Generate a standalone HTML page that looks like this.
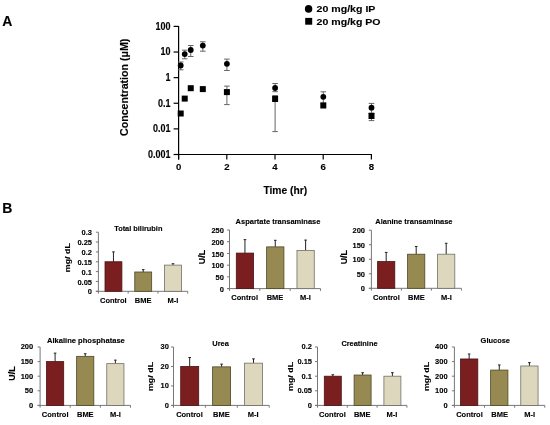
<!DOCTYPE html>
<html><head><meta charset="utf-8"><title>Figure</title>
<style>html,body{margin:0;padding:0;background:#fff;}body{width:550px;height:425px;overflow:hidden;}svg{display:block;}text{stroke:#000;stroke-width:0.12px;}</style>
</head><body>
<svg width="550" height="425" viewBox="0 0 550 425" font-family="Liberation Sans, Arial, sans-serif" font-weight="bold">
<rect width="550" height="425" fill="#fff"/>
<text font-size="14" text-anchor="start" fill="#000" transform="translate(2.20 26.00)">A</text>
<ellipse cx="308.60" cy="8.90" rx="3.70" ry="3.80" fill="#000"/>
<rect x="305.20" y="17.90" width="7.00" height="6.80" fill="#000"/>
<text font-size="9.9" text-anchor="start" fill="#000" textLength="58.80" lengthAdjust="spacingAndGlyphs" transform="translate(316.60 11.70)">20 mg/kg IP</text>
<text font-size="9.9" text-anchor="start" fill="#000" textLength="64.00" lengthAdjust="spacingAndGlyphs" transform="translate(316.60 24.50)">20 mg/kg PO</text>
<line x1="178.60" y1="25.90" x2="178.60" y2="159.50" stroke="#000" stroke-width="1.2"/>
<line x1="178.00" y1="154.50" x2="372.00" y2="154.50" stroke="#000" stroke-width="1.2"/>
<line x1="173.60" y1="26.40" x2="178.60" y2="26.40" stroke="#000" stroke-width="1.2"/>
<text font-size="9" text-anchor="end" fill="#000" transform="translate(170.50 29.70) scale(1 1.12)">100</text>
<line x1="173.60" y1="52.02" x2="178.60" y2="52.02" stroke="#000" stroke-width="1.2"/>
<text font-size="9" text-anchor="end" fill="#000" transform="translate(170.50 55.32) scale(1 1.12)">10</text>
<line x1="173.60" y1="77.64" x2="178.60" y2="77.64" stroke="#000" stroke-width="1.2"/>
<text font-size="9" text-anchor="end" fill="#000" transform="translate(170.50 80.94) scale(1 1.12)">1</text>
<line x1="173.60" y1="103.26" x2="178.60" y2="103.26" stroke="#000" stroke-width="1.2"/>
<text font-size="9" text-anchor="end" fill="#000" transform="translate(170.50 106.56) scale(1 1.12)">0.1</text>
<line x1="173.60" y1="128.88" x2="178.60" y2="128.88" stroke="#000" stroke-width="1.2"/>
<text font-size="9" text-anchor="end" fill="#000" transform="translate(170.50 132.18) scale(1 1.12)">0.01</text>
<line x1="173.60" y1="154.50" x2="178.60" y2="154.50" stroke="#000" stroke-width="1.2"/>
<text font-size="9" text-anchor="end" fill="#000" transform="translate(170.50 157.80) scale(1 1.12)">0.001</text>
<line x1="178.60" y1="154.50" x2="178.60" y2="159.50" stroke="#000" stroke-width="1.2"/>
<text font-size="9.6" text-anchor="middle" fill="#000" transform="translate(178.60 170.20)">0</text>
<line x1="226.80" y1="154.50" x2="226.80" y2="159.50" stroke="#000" stroke-width="1.2"/>
<text font-size="9.6" text-anchor="middle" fill="#000" transform="translate(226.80 170.20)">2</text>
<line x1="275.00" y1="154.50" x2="275.00" y2="159.50" stroke="#000" stroke-width="1.2"/>
<text font-size="9.6" text-anchor="middle" fill="#000" transform="translate(275.00 170.20)">4</text>
<line x1="323.20" y1="154.50" x2="323.20" y2="159.50" stroke="#000" stroke-width="1.2"/>
<text font-size="9.6" text-anchor="middle" fill="#000" transform="translate(323.20 170.20)">6</text>
<line x1="371.40" y1="154.50" x2="371.40" y2="159.50" stroke="#000" stroke-width="1.2"/>
<text font-size="9.6" text-anchor="middle" fill="#000" transform="translate(371.40 170.20)">8</text>
<text font-size="10" text-anchor="start" fill="#000" textLength="43.80" lengthAdjust="spacingAndGlyphs" transform="translate(263.40 193.60)">Time (hr)</text>
<text font-size="10" text-anchor="middle" fill="#000" textLength="97.40" lengthAdjust="spacingAndGlyphs" transform="translate(127.60 87.30) rotate(-90)">Concentration (μM)</text>
<line x1="180.70" y1="62.00" x2="180.70" y2="69.80" stroke="#666" stroke-width="1.0"/>
<line x1="177.90" y1="62.00" x2="183.50" y2="62.00" stroke="#666" stroke-width="1.0"/>
<line x1="177.90" y1="69.80" x2="183.50" y2="69.80" stroke="#666" stroke-width="1.0"/>
<line x1="184.72" y1="50.20" x2="184.72" y2="58.80" stroke="#666" stroke-width="1.0"/>
<line x1="181.92" y1="50.20" x2="187.53" y2="50.20" stroke="#666" stroke-width="1.0"/>
<line x1="181.92" y1="58.80" x2="187.53" y2="58.80" stroke="#666" stroke-width="1.0"/>
<line x1="190.75" y1="45.50" x2="190.75" y2="56.50" stroke="#666" stroke-width="1.0"/>
<line x1="187.95" y1="45.50" x2="193.55" y2="45.50" stroke="#666" stroke-width="1.0"/>
<line x1="187.95" y1="56.50" x2="193.55" y2="56.50" stroke="#666" stroke-width="1.0"/>
<line x1="202.80" y1="41.80" x2="202.80" y2="51.20" stroke="#666" stroke-width="1.0"/>
<line x1="200.00" y1="41.80" x2="205.60" y2="41.80" stroke="#666" stroke-width="1.0"/>
<line x1="200.00" y1="51.20" x2="205.60" y2="51.20" stroke="#666" stroke-width="1.0"/>
<line x1="226.90" y1="59.10" x2="226.90" y2="70.50" stroke="#666" stroke-width="1.0"/>
<line x1="224.10" y1="59.10" x2="229.70" y2="59.10" stroke="#666" stroke-width="1.0"/>
<line x1="224.10" y1="70.50" x2="229.70" y2="70.50" stroke="#666" stroke-width="1.0"/>
<line x1="275.10" y1="83.50" x2="275.10" y2="91.70" stroke="#666" stroke-width="1.0"/>
<line x1="272.30" y1="83.50" x2="277.90" y2="83.50" stroke="#666" stroke-width="1.0"/>
<line x1="272.30" y1="91.70" x2="277.90" y2="91.70" stroke="#666" stroke-width="1.0"/>
<line x1="323.30" y1="91.80" x2="323.30" y2="103.00" stroke="#666" stroke-width="1.0"/>
<line x1="320.50" y1="91.80" x2="326.10" y2="91.80" stroke="#666" stroke-width="1.0"/>
<line x1="320.50" y1="103.00" x2="326.10" y2="103.00" stroke="#666" stroke-width="1.0"/>
<line x1="371.50" y1="103.40" x2="371.50" y2="113.50" stroke="#666" stroke-width="1.0"/>
<line x1="368.70" y1="103.40" x2="374.30" y2="103.40" stroke="#666" stroke-width="1.0"/>
<line x1="368.70" y1="113.50" x2="374.30" y2="113.50" stroke="#666" stroke-width="1.0"/>
<line x1="226.90" y1="86.10" x2="226.90" y2="104.60" stroke="#666" stroke-width="1.0"/>
<line x1="224.10" y1="86.10" x2="229.70" y2="86.10" stroke="#666" stroke-width="1.0"/>
<line x1="224.10" y1="104.60" x2="229.70" y2="104.60" stroke="#666" stroke-width="1.0"/>
<line x1="275.10" y1="95.50" x2="275.10" y2="131.60" stroke="#666" stroke-width="1.0"/>
<line x1="272.30" y1="95.50" x2="277.90" y2="95.50" stroke="#666" stroke-width="1.0"/>
<line x1="272.30" y1="131.60" x2="277.90" y2="131.60" stroke="#666" stroke-width="1.0"/>
<line x1="371.50" y1="113.00" x2="371.50" y2="120.60" stroke="#666" stroke-width="1.0"/>
<line x1="368.70" y1="113.00" x2="374.30" y2="113.00" stroke="#666" stroke-width="1.0"/>
<line x1="368.70" y1="120.60" x2="374.30" y2="120.60" stroke="#666" stroke-width="1.0"/>
<circle cx="180.70" cy="65.50" r="2.90" fill="#000"/>
<circle cx="184.72" cy="54.10" r="2.90" fill="#000"/>
<circle cx="190.75" cy="50.00" r="2.90" fill="#000"/>
<circle cx="202.80" cy="45.60" r="2.90" fill="#000"/>
<circle cx="226.90" cy="63.80" r="2.90" fill="#000"/>
<circle cx="275.10" cy="88.00" r="2.90" fill="#000"/>
<circle cx="323.30" cy="96.80" r="2.90" fill="#000"/>
<circle cx="371.50" cy="107.70" r="2.90" fill="#000"/>
<rect x="177.70" y="110.50" width="6.00" height="6.00" fill="#000"/>
<rect x="181.72" y="95.60" width="6.00" height="6.00" fill="#000"/>
<rect x="187.75" y="85.20" width="6.00" height="6.00" fill="#000"/>
<rect x="199.80" y="86.10" width="6.00" height="6.00" fill="#000"/>
<rect x="223.90" y="89.10" width="6.00" height="6.00" fill="#000"/>
<rect x="272.10" y="96.00" width="6.00" height="6.00" fill="#000"/>
<rect x="320.30" y="102.50" width="6.00" height="6.00" fill="#000"/>
<rect x="368.50" y="113.00" width="6.00" height="6.00" fill="#000"/>
<text font-size="14" text-anchor="start" fill="#000" transform="translate(2.20 212.70)">B</text>
<line x1="98.40" y1="232.20" x2="98.40" y2="293.60" stroke="#777" stroke-width="1"/>
<line x1="95.90" y1="291.30" x2="187.71" y2="291.30" stroke="#777" stroke-width="1"/>
<line x1="95.90" y1="291.30" x2="98.40" y2="291.30" stroke="#777" stroke-width="1"/>
<text font-size="7.5" text-anchor="end" fill="#000" transform="translate(92.00 294.45) scale(1 1.06)">0</text>
<line x1="95.90" y1="281.45" x2="98.40" y2="281.45" stroke="#777" stroke-width="1"/>
<text font-size="7.5" text-anchor="end" fill="#000" transform="translate(92.00 284.60) scale(1 1.06)">0.05</text>
<line x1="95.90" y1="271.60" x2="98.40" y2="271.60" stroke="#777" stroke-width="1"/>
<text font-size="7.5" text-anchor="end" fill="#000" transform="translate(92.00 274.75) scale(1 1.06)">0.1</text>
<line x1="95.90" y1="261.75" x2="98.40" y2="261.75" stroke="#777" stroke-width="1"/>
<text font-size="7.5" text-anchor="end" fill="#000" transform="translate(92.00 264.90) scale(1 1.06)">0.15</text>
<line x1="95.90" y1="251.90" x2="98.40" y2="251.90" stroke="#777" stroke-width="1"/>
<text font-size="7.5" text-anchor="end" fill="#000" transform="translate(92.00 255.05) scale(1 1.06)">0.2</text>
<line x1="95.90" y1="242.05" x2="98.40" y2="242.05" stroke="#777" stroke-width="1"/>
<text font-size="7.5" text-anchor="end" fill="#000" transform="translate(92.00 245.20) scale(1 1.06)">0.25</text>
<line x1="95.90" y1="232.20" x2="98.40" y2="232.20" stroke="#777" stroke-width="1"/>
<text font-size="7.5" text-anchor="end" fill="#000" transform="translate(92.00 235.35) scale(1 1.06)">0.3</text>
<line x1="128.17" y1="291.30" x2="128.17" y2="293.60" stroke="#777" stroke-width="1"/>
<line x1="157.94" y1="291.30" x2="157.94" y2="293.60" stroke="#777" stroke-width="1"/>
<line x1="187.71" y1="291.30" x2="187.71" y2="293.60" stroke="#777" stroke-width="1"/>
<line x1="113.45" y1="251.90" x2="113.45" y2="261.75" stroke="#222" stroke-width="1"/>
<line x1="112.15" y1="251.90" x2="114.75" y2="251.90" stroke="#222" stroke-width="1"/>
<rect x="105.00" y="261.75" width="16.90" height="29.55" fill="#7a1e1f" stroke="#4a1212" stroke-width="0.8"/>
<line x1="143.22" y1="269.63" x2="143.22" y2="271.99" stroke="#222" stroke-width="1"/>
<line x1="141.92" y1="269.63" x2="144.52" y2="269.63" stroke="#222" stroke-width="1"/>
<rect x="134.77" y="271.99" width="16.90" height="19.31" fill="#968a52" stroke="#4f4622" stroke-width="0.8"/>
<line x1="172.99" y1="263.72" x2="172.99" y2="265.10" stroke="#222" stroke-width="1"/>
<line x1="171.69" y1="263.72" x2="174.29" y2="263.72" stroke="#222" stroke-width="1"/>
<rect x="164.54" y="265.10" width="16.90" height="26.20" fill="#ddd7bd" stroke="#707068" stroke-width="0.8"/>
<text font-size="7.5" text-anchor="middle" fill="#000" transform="translate(113.29 302.80) scale(1 1.06)">Control</text>
<text font-size="7.5" text-anchor="middle" fill="#000" transform="translate(143.06 302.80) scale(1 1.06)">BME</text>
<text font-size="7.5" text-anchor="middle" fill="#000" transform="translate(172.82 302.80) scale(1 1.06)">M-I</text>
<text font-size="7.5" text-anchor="start" fill="#000" textLength="48.20" lengthAdjust="spacingAndGlyphs" transform="translate(114.20 231.10) scale(1 1.06)">Total bilirubin</text>
<text font-size="8.9" text-anchor="middle" fill="#000" transform="translate(69.80 257.70) rotate(-90) scale(1 0.9)">mg/ dL</text>
<line x1="229.50" y1="230.00" x2="229.50" y2="290.90" stroke="#777" stroke-width="1"/>
<line x1="227.00" y1="288.60" x2="320.49" y2="288.60" stroke="#777" stroke-width="1"/>
<line x1="227.00" y1="288.60" x2="229.50" y2="288.60" stroke="#777" stroke-width="1"/>
<text font-size="7.5" text-anchor="end" fill="#000" transform="translate(223.90 291.75) scale(1 1.06)">0</text>
<line x1="227.00" y1="276.88" x2="229.50" y2="276.88" stroke="#777" stroke-width="1"/>
<text font-size="7.5" text-anchor="end" fill="#000" transform="translate(223.90 280.03) scale(1 1.06)">50</text>
<line x1="227.00" y1="265.16" x2="229.50" y2="265.16" stroke="#777" stroke-width="1"/>
<text font-size="7.5" text-anchor="end" fill="#000" transform="translate(223.90 268.31) scale(1 1.06)">100</text>
<line x1="227.00" y1="253.44" x2="229.50" y2="253.44" stroke="#777" stroke-width="1"/>
<text font-size="7.5" text-anchor="end" fill="#000" transform="translate(223.90 256.59) scale(1 1.06)">150</text>
<line x1="227.00" y1="241.72" x2="229.50" y2="241.72" stroke="#777" stroke-width="1"/>
<text font-size="7.5" text-anchor="end" fill="#000" transform="translate(223.90 244.87) scale(1 1.06)">200</text>
<line x1="227.00" y1="230.00" x2="229.50" y2="230.00" stroke="#777" stroke-width="1"/>
<text font-size="7.5" text-anchor="end" fill="#000" transform="translate(223.90 233.15) scale(1 1.06)">250</text>
<line x1="259.83" y1="288.60" x2="259.83" y2="290.90" stroke="#777" stroke-width="1"/>
<line x1="290.16" y1="288.60" x2="290.16" y2="290.90" stroke="#777" stroke-width="1"/>
<line x1="320.49" y1="288.60" x2="320.49" y2="290.90" stroke="#777" stroke-width="1"/>
<line x1="244.95" y1="239.61" x2="244.95" y2="253.09" stroke="#222" stroke-width="1"/>
<line x1="243.65" y1="239.61" x2="246.25" y2="239.61" stroke="#222" stroke-width="1"/>
<rect x="236.30" y="253.09" width="17.30" height="35.51" fill="#7a1e1f" stroke="#4a1212" stroke-width="0.8"/>
<line x1="275.28" y1="240.31" x2="275.28" y2="246.88" stroke="#222" stroke-width="1"/>
<line x1="273.98" y1="240.31" x2="276.58" y2="240.31" stroke="#222" stroke-width="1"/>
<rect x="266.63" y="246.88" width="17.30" height="41.72" fill="#968a52" stroke="#4f4622" stroke-width="0.8"/>
<line x1="305.61" y1="240.08" x2="305.61" y2="250.39" stroke="#222" stroke-width="1"/>
<line x1="304.31" y1="240.08" x2="306.91" y2="240.08" stroke="#222" stroke-width="1"/>
<rect x="296.96" y="250.39" width="17.30" height="38.21" fill="#ddd7bd" stroke="#707068" stroke-width="0.8"/>
<text font-size="7.5" text-anchor="middle" fill="#000" transform="translate(244.66 300.40) scale(1 1.06)">Control</text>
<text font-size="7.5" text-anchor="middle" fill="#000" transform="translate(275.00 300.40) scale(1 1.06)">BME</text>
<text font-size="7.5" text-anchor="middle" fill="#000" transform="translate(305.32 300.40) scale(1 1.06)">M-I</text>
<text font-size="7.5" text-anchor="start" fill="#000" textLength="84.80" lengthAdjust="spacingAndGlyphs" transform="translate(235.60 223.90) scale(1 1.06)">Aspartate transaminase</text>
<text font-size="8.9" text-anchor="middle" fill="#000" transform="translate(205.00 257.10) rotate(-90) scale(1 0.97)">U/L</text>
<line x1="371.40" y1="230.20" x2="371.40" y2="290.60" stroke="#777" stroke-width="1"/>
<line x1="368.90" y1="288.30" x2="461.40" y2="288.30" stroke="#777" stroke-width="1"/>
<line x1="368.90" y1="288.30" x2="371.40" y2="288.30" stroke="#777" stroke-width="1"/>
<text font-size="7.5" text-anchor="end" fill="#000" transform="translate(365.00 291.45) scale(1 1.06)">0</text>
<line x1="368.90" y1="273.77" x2="371.40" y2="273.77" stroke="#777" stroke-width="1"/>
<text font-size="7.5" text-anchor="end" fill="#000" transform="translate(365.00 276.92) scale(1 1.06)">50</text>
<line x1="368.90" y1="259.25" x2="371.40" y2="259.25" stroke="#777" stroke-width="1"/>
<text font-size="7.5" text-anchor="end" fill="#000" transform="translate(365.00 262.40) scale(1 1.06)">100</text>
<line x1="368.90" y1="244.72" x2="371.40" y2="244.72" stroke="#777" stroke-width="1"/>
<text font-size="7.5" text-anchor="end" fill="#000" transform="translate(365.00 247.88) scale(1 1.06)">150</text>
<line x1="368.90" y1="230.20" x2="371.40" y2="230.20" stroke="#777" stroke-width="1"/>
<text font-size="7.5" text-anchor="end" fill="#000" transform="translate(365.00 233.35) scale(1 1.06)">200</text>
<line x1="401.40" y1="288.30" x2="401.40" y2="290.60" stroke="#777" stroke-width="1"/>
<line x1="431.40" y1="288.30" x2="431.40" y2="290.60" stroke="#777" stroke-width="1"/>
<line x1="461.40" y1="288.30" x2="461.40" y2="290.60" stroke="#777" stroke-width="1"/>
<line x1="386.20" y1="252.42" x2="386.20" y2="261.57" stroke="#222" stroke-width="1"/>
<line x1="384.90" y1="252.42" x2="387.50" y2="252.42" stroke="#222" stroke-width="1"/>
<rect x="377.60" y="261.57" width="17.20" height="26.73" fill="#7a1e1f" stroke="#4a1212" stroke-width="0.8"/>
<line x1="416.20" y1="246.47" x2="416.20" y2="254.20" stroke="#222" stroke-width="1"/>
<line x1="414.90" y1="246.47" x2="417.50" y2="246.47" stroke="#222" stroke-width="1"/>
<rect x="407.60" y="254.20" width="17.20" height="34.10" fill="#968a52" stroke="#4f4622" stroke-width="0.8"/>
<line x1="446.20" y1="243.27" x2="446.20" y2="254.20" stroke="#222" stroke-width="1"/>
<line x1="444.90" y1="243.27" x2="447.50" y2="243.27" stroke="#222" stroke-width="1"/>
<rect x="437.60" y="254.20" width="17.20" height="34.10" fill="#ddd7bd" stroke="#707068" stroke-width="0.8"/>
<text font-size="7.5" text-anchor="middle" fill="#000" transform="translate(386.40 300.00) scale(1 1.06)">Control</text>
<text font-size="7.5" text-anchor="middle" fill="#000" transform="translate(416.40 300.00) scale(1 1.06)">BME</text>
<text font-size="7.5" text-anchor="middle" fill="#000" transform="translate(446.40 300.00) scale(1 1.06)">M-I</text>
<text font-size="7.5" text-anchor="start" fill="#000" textLength="77.20" lengthAdjust="spacingAndGlyphs" transform="translate(375.30 224.30) scale(1 1.06)">Alanine transaminase</text>
<text font-size="8.9" text-anchor="middle" fill="#000" transform="translate(347.00 257.20) rotate(-90) scale(1 0.97)">U/L</text>
<line x1="40.10" y1="347.00" x2="40.10" y2="407.70" stroke="#777" stroke-width="1"/>
<line x1="37.60" y1="405.40" x2="130.49" y2="405.40" stroke="#777" stroke-width="1"/>
<line x1="37.60" y1="405.40" x2="40.10" y2="405.40" stroke="#777" stroke-width="1"/>
<text font-size="7.5" text-anchor="end" fill="#000" transform="translate(33.20 407.75) scale(1 1.06)">0</text>
<line x1="37.60" y1="390.80" x2="40.10" y2="390.80" stroke="#777" stroke-width="1"/>
<text font-size="7.5" text-anchor="end" fill="#000" transform="translate(33.20 393.15) scale(1 1.06)">50</text>
<line x1="37.60" y1="376.20" x2="40.10" y2="376.20" stroke="#777" stroke-width="1"/>
<text font-size="7.5" text-anchor="end" fill="#000" transform="translate(33.20 378.55) scale(1 1.06)">100</text>
<line x1="37.60" y1="361.60" x2="40.10" y2="361.60" stroke="#777" stroke-width="1"/>
<text font-size="7.5" text-anchor="end" fill="#000" transform="translate(33.20 363.95) scale(1 1.06)">150</text>
<line x1="37.60" y1="347.00" x2="40.10" y2="347.00" stroke="#777" stroke-width="1"/>
<text font-size="7.5" text-anchor="end" fill="#000" transform="translate(33.20 349.35) scale(1 1.06)">200</text>
<line x1="70.23" y1="405.40" x2="70.23" y2="407.70" stroke="#777" stroke-width="1"/>
<line x1="100.36" y1="405.40" x2="100.36" y2="407.70" stroke="#777" stroke-width="1"/>
<line x1="130.49" y1="405.40" x2="130.49" y2="407.70" stroke="#777" stroke-width="1"/>
<line x1="55.10" y1="353.13" x2="55.10" y2="361.60" stroke="#222" stroke-width="1"/>
<line x1="53.80" y1="353.13" x2="56.40" y2="353.13" stroke="#222" stroke-width="1"/>
<rect x="46.50" y="361.60" width="17.20" height="43.80" fill="#7a1e1f" stroke="#4a1212" stroke-width="0.8"/>
<line x1="85.23" y1="353.72" x2="85.23" y2="356.34" stroke="#222" stroke-width="1"/>
<line x1="83.93" y1="353.72" x2="86.53" y2="353.72" stroke="#222" stroke-width="1"/>
<rect x="76.63" y="356.34" width="17.20" height="49.06" fill="#968a52" stroke="#4f4622" stroke-width="0.8"/>
<line x1="115.36" y1="360.14" x2="115.36" y2="363.64" stroke="#222" stroke-width="1"/>
<line x1="114.06" y1="360.14" x2="116.66" y2="360.14" stroke="#222" stroke-width="1"/>
<rect x="106.76" y="363.64" width="17.20" height="41.76" fill="#ddd7bd" stroke="#707068" stroke-width="0.8"/>
<text font-size="7.5" text-anchor="middle" fill="#000" transform="translate(55.16 416.90) scale(1 1.06)">Control</text>
<text font-size="7.5" text-anchor="middle" fill="#000" transform="translate(85.30 416.90) scale(1 1.06)">BME</text>
<text font-size="7.5" text-anchor="middle" fill="#000" transform="translate(115.42 416.90) scale(1 1.06)">M-I</text>
<text font-size="7.5" text-anchor="start" fill="#000" textLength="77.80" lengthAdjust="spacingAndGlyphs" transform="translate(47.00 342.90) scale(1 1.06)">Alkaline phosphatase</text>
<text font-size="8.9" text-anchor="middle" fill="#000" transform="translate(14.90 373.60) rotate(-90) scale(1 0.97)">U/L</text>
<line x1="173.50" y1="347.00" x2="173.50" y2="407.70" stroke="#777" stroke-width="1"/>
<line x1="171.00" y1="405.40" x2="269.20" y2="405.40" stroke="#777" stroke-width="1"/>
<line x1="171.00" y1="405.40" x2="173.50" y2="405.40" stroke="#777" stroke-width="1"/>
<text font-size="7.5" text-anchor="end" fill="#000" transform="translate(168.80 407.75) scale(1 1.06)">0</text>
<line x1="171.00" y1="385.93" x2="173.50" y2="385.93" stroke="#777" stroke-width="1"/>
<text font-size="7.5" text-anchor="end" fill="#000" transform="translate(168.80 388.28) scale(1 1.06)">10</text>
<line x1="171.00" y1="366.47" x2="173.50" y2="366.47" stroke="#777" stroke-width="1"/>
<text font-size="7.5" text-anchor="end" fill="#000" transform="translate(168.80 368.82) scale(1 1.06)">20</text>
<line x1="171.00" y1="347.00" x2="173.50" y2="347.00" stroke="#777" stroke-width="1"/>
<text font-size="7.5" text-anchor="end" fill="#000" transform="translate(168.80 349.35) scale(1 1.06)">30</text>
<line x1="205.40" y1="405.40" x2="205.40" y2="407.70" stroke="#777" stroke-width="1"/>
<line x1="237.30" y1="405.40" x2="237.30" y2="407.70" stroke="#777" stroke-width="1"/>
<line x1="269.20" y1="405.40" x2="269.20" y2="407.70" stroke="#777" stroke-width="1"/>
<line x1="189.70" y1="357.51" x2="189.70" y2="366.47" stroke="#222" stroke-width="1"/>
<line x1="188.40" y1="357.51" x2="191.00" y2="357.51" stroke="#222" stroke-width="1"/>
<rect x="180.70" y="366.47" width="18.00" height="38.93" fill="#7a1e1f" stroke="#4a1212" stroke-width="0.8"/>
<line x1="221.60" y1="364.13" x2="221.60" y2="366.86" stroke="#222" stroke-width="1"/>
<line x1="220.30" y1="364.13" x2="222.90" y2="364.13" stroke="#222" stroke-width="1"/>
<rect x="212.60" y="366.86" width="18.00" height="38.54" fill="#968a52" stroke="#4f4622" stroke-width="0.8"/>
<line x1="253.50" y1="358.87" x2="253.50" y2="363.16" stroke="#222" stroke-width="1"/>
<line x1="252.20" y1="358.87" x2="254.80" y2="358.87" stroke="#222" stroke-width="1"/>
<rect x="244.50" y="363.16" width="18.00" height="42.24" fill="#ddd7bd" stroke="#707068" stroke-width="0.8"/>
<text font-size="7.5" text-anchor="middle" fill="#000" transform="translate(189.45 416.90) scale(1 1.06)">Control</text>
<text font-size="7.5" text-anchor="middle" fill="#000" transform="translate(221.35 416.90) scale(1 1.06)">BME</text>
<text font-size="7.5" text-anchor="middle" fill="#000" transform="translate(253.25 416.90) scale(1 1.06)">M-I</text>
<text font-size="7.5" text-anchor="start" fill="#000" textLength="16.60" lengthAdjust="spacingAndGlyphs" transform="translate(212.30 345.60) scale(1 1.06)">Urea</text>
<text font-size="8.9" text-anchor="middle" fill="#000" transform="translate(153.20 376.50) rotate(-90) scale(1 0.9)">mg/ dL</text>
<line x1="317.50" y1="347.00" x2="317.50" y2="407.70" stroke="#777" stroke-width="1"/>
<line x1="315.00" y1="405.40" x2="406.90" y2="405.40" stroke="#777" stroke-width="1"/>
<line x1="315.00" y1="405.40" x2="317.50" y2="405.40" stroke="#777" stroke-width="1"/>
<text font-size="7.5" text-anchor="end" fill="#000" transform="translate(312.00 407.75) scale(1 1.06)">0</text>
<line x1="315.00" y1="390.80" x2="317.50" y2="390.80" stroke="#777" stroke-width="1"/>
<text font-size="7.5" text-anchor="end" fill="#000" transform="translate(312.00 393.15) scale(1 1.06)">0.05</text>
<line x1="315.00" y1="376.20" x2="317.50" y2="376.20" stroke="#777" stroke-width="1"/>
<text font-size="7.5" text-anchor="end" fill="#000" transform="translate(312.00 378.55) scale(1 1.06)">0.1</text>
<line x1="315.00" y1="361.60" x2="317.50" y2="361.60" stroke="#777" stroke-width="1"/>
<text font-size="7.5" text-anchor="end" fill="#000" transform="translate(312.00 363.95) scale(1 1.06)">0.15</text>
<line x1="315.00" y1="347.00" x2="317.50" y2="347.00" stroke="#777" stroke-width="1"/>
<text font-size="7.5" text-anchor="end" fill="#000" transform="translate(312.00 349.35) scale(1 1.06)">0.2</text>
<line x1="347.30" y1="405.40" x2="347.30" y2="407.70" stroke="#777" stroke-width="1"/>
<line x1="377.10" y1="405.40" x2="377.10" y2="407.70" stroke="#777" stroke-width="1"/>
<line x1="406.90" y1="405.40" x2="406.90" y2="407.70" stroke="#777" stroke-width="1"/>
<line x1="332.80" y1="374.74" x2="332.80" y2="376.20" stroke="#222" stroke-width="1"/>
<line x1="331.50" y1="374.74" x2="334.10" y2="374.74" stroke="#222" stroke-width="1"/>
<rect x="324.30" y="376.20" width="17.00" height="29.20" fill="#7a1e1f" stroke="#4a1212" stroke-width="0.8"/>
<line x1="362.60" y1="372.70" x2="362.60" y2="375.03" stroke="#222" stroke-width="1"/>
<line x1="361.30" y1="372.70" x2="363.90" y2="372.70" stroke="#222" stroke-width="1"/>
<rect x="354.10" y="375.03" width="17.00" height="30.37" fill="#968a52" stroke="#4f4622" stroke-width="0.8"/>
<line x1="392.40" y1="372.70" x2="392.40" y2="376.20" stroke="#222" stroke-width="1"/>
<line x1="391.10" y1="372.70" x2="393.70" y2="372.70" stroke="#222" stroke-width="1"/>
<rect x="383.90" y="376.20" width="17.00" height="29.20" fill="#ddd7bd" stroke="#707068" stroke-width="0.8"/>
<text font-size="7.5" text-anchor="middle" fill="#000" transform="translate(332.40 416.90) scale(1 1.06)">Control</text>
<text font-size="7.5" text-anchor="middle" fill="#000" transform="translate(362.20 416.90) scale(1 1.06)">BME</text>
<text font-size="7.5" text-anchor="middle" fill="#000" transform="translate(392.00 416.90) scale(1 1.06)">M-I</text>
<text font-size="7.5" text-anchor="start" fill="#000" textLength="36.10" lengthAdjust="spacingAndGlyphs" transform="translate(341.40 345.60) scale(1 1.06)">Creatinine</text>
<text font-size="8.9" text-anchor="middle" fill="#000" transform="translate(293.10 376.40) rotate(-90) scale(1 0.9)">mg/ dL</text>
<line x1="454.40" y1="347.00" x2="454.40" y2="407.70" stroke="#777" stroke-width="1"/>
<line x1="451.90" y1="405.40" x2="544.79" y2="405.40" stroke="#777" stroke-width="1"/>
<line x1="451.90" y1="405.40" x2="454.40" y2="405.40" stroke="#777" stroke-width="1"/>
<text font-size="7.5" text-anchor="end" fill="#000" transform="translate(447.60 407.75) scale(1 1.06)">0</text>
<line x1="451.90" y1="390.80" x2="454.40" y2="390.80" stroke="#777" stroke-width="1"/>
<text font-size="7.5" text-anchor="end" fill="#000" transform="translate(447.60 393.15) scale(1 1.06)">100</text>
<line x1="451.90" y1="376.20" x2="454.40" y2="376.20" stroke="#777" stroke-width="1"/>
<text font-size="7.5" text-anchor="end" fill="#000" transform="translate(447.60 378.55) scale(1 1.06)">200</text>
<line x1="451.90" y1="361.60" x2="454.40" y2="361.60" stroke="#777" stroke-width="1"/>
<text font-size="7.5" text-anchor="end" fill="#000" transform="translate(447.60 363.95) scale(1 1.06)">300</text>
<line x1="451.90" y1="347.00" x2="454.40" y2="347.00" stroke="#777" stroke-width="1"/>
<text font-size="7.5" text-anchor="end" fill="#000" transform="translate(447.60 349.35) scale(1 1.06)">400</text>
<line x1="484.53" y1="405.40" x2="484.53" y2="407.70" stroke="#777" stroke-width="1"/>
<line x1="514.66" y1="405.40" x2="514.66" y2="407.70" stroke="#777" stroke-width="1"/>
<line x1="544.79" y1="405.40" x2="544.79" y2="407.70" stroke="#777" stroke-width="1"/>
<line x1="469.15" y1="354.01" x2="469.15" y2="358.97" stroke="#222" stroke-width="1"/>
<line x1="467.85" y1="354.01" x2="470.45" y2="354.01" stroke="#222" stroke-width="1"/>
<rect x="460.50" y="358.97" width="17.30" height="46.43" fill="#7a1e1f" stroke="#4a1212" stroke-width="0.8"/>
<line x1="499.28" y1="364.96" x2="499.28" y2="370.07" stroke="#222" stroke-width="1"/>
<line x1="497.98" y1="364.96" x2="500.58" y2="364.96" stroke="#222" stroke-width="1"/>
<rect x="490.63" y="370.07" width="17.30" height="35.33" fill="#968a52" stroke="#4f4622" stroke-width="0.8"/>
<line x1="529.41" y1="362.62" x2="529.41" y2="365.98" stroke="#222" stroke-width="1"/>
<line x1="528.11" y1="362.62" x2="530.71" y2="362.62" stroke="#222" stroke-width="1"/>
<rect x="520.76" y="365.98" width="17.30" height="39.42" fill="#ddd7bd" stroke="#707068" stroke-width="0.8"/>
<text font-size="7.5" text-anchor="middle" fill="#000" transform="translate(469.46 416.90) scale(1 1.06)">Control</text>
<text font-size="7.5" text-anchor="middle" fill="#000" transform="translate(499.59 416.90) scale(1 1.06)">BME</text>
<text font-size="7.5" text-anchor="middle" fill="#000" transform="translate(529.73 416.90) scale(1 1.06)">M-I</text>
<text font-size="7.5" text-anchor="start" fill="#000" textLength="29.40" lengthAdjust="spacingAndGlyphs" transform="translate(480.60 343.40) scale(1 1.06)">Glucose</text>
<text font-size="8.9" text-anchor="middle" fill="#000" transform="translate(428.70 376.50) rotate(-90) scale(1 0.9)">mg/ dL</text>
</svg>
</body></html>
